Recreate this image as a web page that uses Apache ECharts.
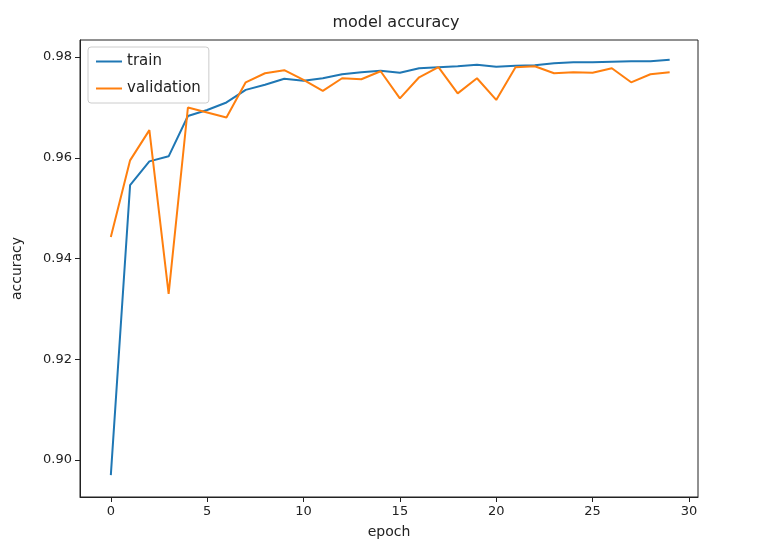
<!DOCTYPE html>
<html>
<head>
<meta charset="utf-8">
<script src="https://cdn.jsdelivr.net/npm/echarts@6/dist/echarts.min.js"></script>
<style>html,body{margin:0;background:#fff}#root{width:766px;height:550px}</style>
</head>
<body>
<div id="root"></div>
<script>
const epochs = Array.from({ length: 30 }, (_, i) => i);
const trainAcc = [0.897, 0.9546, 0.9593, 0.9603, 0.9683, 0.9695, 0.971, 0.9735, 0.9745, 0.9757,
  0.9753, 0.9758, 0.9766, 0.977, 0.9773, 0.9769, 0.9778, 0.978, 0.9782, 0.9785,
  0.9781, 0.9783, 0.9784, 0.9788, 0.979, 0.979, 0.9791, 0.9792, 0.9792, 0.9795];
const valAcc = [0.9443, 0.9595, 0.9655, 0.933, 0.970, 0.969, 0.968, 0.975, 0.9768, 0.9774,
  0.9755, 0.9733, 0.9758, 0.9756, 0.9772, 0.9718, 0.976, 0.978, 0.9728, 0.9758,
  0.9715, 0.978, 0.9782, 0.9768, 0.977, 0.9769, 0.9778, 0.975, 0.9766, 0.977];
const xTicks = [0, 5, 10, 15, 20, 25, 30];
const yTicks = [0.90, 0.92, 0.94, 0.96, 0.98];

const font = "DejaVu Sans";
const chart = echarts.init(document.getElementById("root"));
chart.setOption({
  animation: false,
  title: { text: "model accuracy", left: 391, top: 10, textAlign: "center",
    textStyle: { fontFamily: font, fontSize: 16, fontWeight: "normal", color: "#222" } },
  legend: {
    left: 88, top: 47, orient: "vertical", itemWidth: 26, itemHeight: 2, itemGap: 12,
    padding: [7, 8], borderColor: "#ccc", borderWidth: 1, borderRadius: 3, backgroundColor: "rgba(255,255,255,0.8)",
    textStyle: { fontFamily: font, fontSize: 15, color: "#222" },
    icon: "rect",
    data: ["train", "validation"]
  },
  grid: { left: 80, right: 68, top: 40, bottom: 53 },
  xAxis: {
    type: "value", min: -1.6, max: 30.47,
    name: "epoch", nameLocation: "middle", nameGap: 28,
    nameTextStyle: { fontFamily: font, fontSize: 14, color: "#222" },
    axisLine: { onZero: false, lineStyle: { color: "#222" } },
    axisTick: { customValues: xTicks, length: 5, lineStyle: { color: "#222" } },
    axisLabel: { customValues: xTicks, fontFamily: font, fontSize: 13, color: "#222" },
    splitLine: { show: false }
  },
  yAxis: {
    type: "value", min: 0.89265, max: 0.9834,
    name: "accuracy", nameLocation: "middle", nameGap: 56,
    nameTextStyle: { fontFamily: font, fontSize: 14, color: "#222" },
    axisLine: { show: true, onZero: false, lineStyle: { color: "#222" } },
    axisTick: { show: true, customValues: yTicks, length: 5, lineStyle: { color: "#222" } },
    axisLabel: { customValues: yTicks, fontFamily: font, fontSize: 13, color: "#222",
      formatter: v => v.toFixed(2) },
    splitLine: { show: false }
  },
  series: [
    { name: "train", type: "line", data: epochs.map((e, i) => [e, trainAcc[i]]),
      showSymbol: false, color: "#1f77b4", lineStyle: { width: 2 } },
    { name: "validation", type: "line", data: epochs.map((e, i) => [e, valAcc[i]]),
      showSymbol: false, color: "#ff7f0e", lineStyle: { width: 2 } }
  ],
  graphic: [{ type: "rect", shape: { x: 80, y: 40, width: 618, height: 457 },
    style: { fill: "none", stroke: "#222", lineWidth: 1 }, silent: true }]
});
</script>
</body>
</html>
